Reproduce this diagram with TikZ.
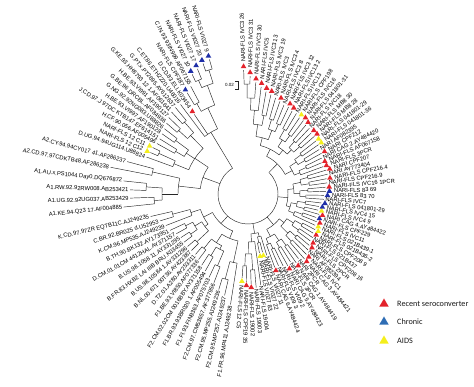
\documentclass[tikz,border=0pt]{standalone}
\usepackage{fontspec}
\setmainfont{Liberation Sans}
\newfontfamily\legfont{Carlito}
\usepackage{xcolor}
\usepackage{tikz}
\usetikzlibrary{shapes.geometric}
\definecolor{srred}{HTML}{E3232B}
\definecolor{srblue}{HTML}{1F2FA8}
\definecolor{legblue}{HTML}{2E6DB4}
\definecolor{sryellow}{HTML}{F4EE1C}

\begin{document}
\begin{tikzpicture}[x=1pt,y=1pt,
  branch/.style={black!85, line width=0.45pt},
  lbl/.style={font=\fontsize{5.8}{6}\selectfont, text=black, inner sep=0.4pt},
  tri/.style={regular polygon, regular polygon sides=3, minimum size=6.5pt, inner sep=0pt, draw=none},
  legtxt/.style={font=\legfont\fontsize{8.2}{9}\selectfont, text=black!90, anchor=west, inner sep=0pt}]

\useasboundingbox (-248,-193) rectangle (226,194);

% ROOT RING
\draw[branch] (121:30pt) arc[start angle=121, end angle=405.76, radius=30pt];

% CLADES: start/end/radius/parent radius
\foreach \a/\b/\r/\q in {
  106/109/130/116, 112/115/124/116, 107.5/113.5/116/95, 118/121/104/95, 110.5/119.5/95/72, 115/127/72/30,
  130/133/96/82, 136/139/94/82, 131.5/137.5/82/64, 142/145/90/74, 148/151/84/74, 143.5/149.5/74/64,
  154/157/98/80, 155.5/160/80/64, 134.5/157.75/64/48,
  165/169/98/70, 174/178/102/86, 182/186/94/86, 176/184/86/70, 167/180/70/48, 146.125/173.5/48/30,
  193/197/78/60, 195/201/60/50, 205/209/70/62, 213/217/70/62, 207/215/62/54, 221/225/70/54,
  211/223/54/50, 198/217/50/40, 229/233/70/58, 237/241/72/62, 245/249/78/62, 239/247/62/58,
  231/243/58/48, 253/257/88/70, 255/261/70/48, 237/258/48/40, 207.5/247.5/40/30,
  266/269/72/60, 272/275/76/60, 267.5/273.5/60/48, 270.5/278/48/40, 281/284/50/44, 282.5/287/44/40,
  274.25/284.75/40/30,
  332/329/62/54, 326/323/62/54, 324.5/330.5/54/46, 320/317/64/56, 314/311/64/56, 312.5/318.5/56/46,
  315.5/327.5/46/40, 308/305/64/56, 302/299/62/56, 300.5/306.5/56/48, 296/293/60/54, 290/294.5/54/48,
  292.25/303.5/48/40, 297.875/321.5/40/30,
  377/374/62/54, 371/368/62/54, 369.5/375.5/54/46, 365/362/60/52, 359/356/58/52, 357.5/363.5/52/46,
  360.5/372.5/46/40, 353/350/58/50, 347/344/58/50, 345.5/351.5/50/44, 341/338/58/50, 335/339.5/50/44,
  337.25/348.5/44/40, 342.875/366.5/40/30,
  452/449/110/96, 446/450.5/96/84, 443/448.25/84/70, 440/437/80/70, 438.5/445.625/70/58,
  434/431/78/68, 428/425/76/68, 426.5/432.5/68/58, 429.5/442.0625/58/50, 422/419/74/64,
  416/413/72/64, 414.5/420.5/64/56, 410/407/70/62, 404/401/70/62, 402.5/408.5/62/56,
  405.5/417.5/56/50, 411.5/435.78/50/42, 398/395/66/58, 392/389/66/58, 390.5/396.5/58/50,
  386/383/64/56, 380/384.5/56/50, 382.25/393.5/50/42, 387.875/423.64/42/30}{
  \pgfmathsetmacro\c{(\a+\b)/2}
  \draw[branch] (\a:\r pt) arc[start angle=\a, end angle=\b, radius=\r pt];
  \draw[branch] (\c:\q pt) -- (\c:\r pt);
}

% LEAVES, LEFT: angle/parent/tip/marker/name
\foreach \a/\p/\r/\m/\t in {
  106/130/140/2/NARI-FLS VI027 9, 109/130/138/2/NARI-FLS VI027 20,
  112/124/135/2/NARI-FLS VI027 17, 115/124/132/2/NARI-FLS VI027 10,
  118/104/122/0/C.IN.93.93IN999.AF067155, 121/104/118/2/NARI-FLS CPF387,
  124/72/96/1/D.CD.83.ELI.K03454, 127/72/112/0/C.ET.86.ETH2220.U46016,
  130/96/113/0/G.PT.x.PT2695.AY612637, 133/96/112/0/G.KE.93.HH8793 12 1.AF061641,
  136/94/110/0/H.BE.93.VI991.AF190127, 139/94/108/0/G.BE.96.DRCBL.AF084936,
  142/90/106/0/G.NG.92.92NG083.U88826, 145/90/105/0/H.BE.93.VI997.AF190128,
  148/84/104/0/J.CD.97.J 97DC KTB147.EF614151, 151/84/104/0/H.CF.90.056.AF005496,
  154/98/106/3/NARI-FLS 12 C11, 157/98/106/3/NARI-FLS 12 C12,
  160/80/108/0/D.UG.94.94UG114.U88824,
  165/98/125/0/A2.CY.94.94CY017 41.AF286237, 169/98/140/0/A2.CD.97.97CDKTB48.AF286238,
  174/102/125/0/A1.AU.x.PS1044 Day0.DQ676872, 178/102/118/0/A1.RW.92.92RW008.AB253421,
  182/94/118/0/A1.UG.92.92UG037.AB253429, 186/94/125/0/A1.KE.94.Q23 17.AF004885,
  193/78/100/0/K.CD.97.97ZR EQTB11C.AJ249235, 197/78/92/0/C.BR.92.BR025 d.U52953,
  201/60/88/0/K.CM.96.MP535.AJ249239, 205/70/86/0/B.TH.90.BK132.AY173951,
  209/70/82/0/D.CM.01.01CM 4412HAL.AY371157, 213/70/80/0/B.US.98.1058 11.AY331295,
  217/70/80/0/B.FR.83.HXB2 LAI IIIB BRU.K03455, 221/70/80/0/B.US.98.10584 1.AY331296,
  225/70/80/0/B.NL.00.671 00T36.AY423387, 229/70/80/0/D.TZ.01.A280.AY253311,
  233/70/82/0/F1.BE.93.VI850.AF077336, 237/72/85/0/F2.CM.02.02CM 0016BBY.AY371158,
  241/72/88/0/F1.BR.93.93BR020 1.AF005494, 245/78/92/0/F1.FI.93.FIN9363.AF075703,
  249/78/95/0/F2.CM.97.CM53657.AF377956, 253/88/100/0/F2.CM.95.MP255.AJ249236,
  257/88/104/0/F2.CM.95.MP257.AJ249237, 261/70/112/0/F1.FR.96.MP411.AJ249238}{
  \draw[branch] (\a:\p pt) -- (\a:\r pt);
  \pgfmathsetmacro\mr{\r+3.5}
  \pgfmathsetmacro\rot{\a-180}
  \ifnum\m>0\relax \pgfmathsetmacro\lr{\r+7.5}\else \pgfmathsetmacro\lr{\r+1}\fi
  \ifcase\m\relax\or\def\mc{srred}\or\def\mc{srblue}\or\def\mc{sryellow}\fi
  \ifnum\m>0\relax \node[tri, fill=\mc] (mk\a) at (\a:\mr pt) {};\fi
  \node[lbl, anchor=east, rotate=\rot] (lf\a) at (\a:\lr pt) {\t};
}

% LEAVES, RIGHT
\foreach \a/\p/\r/\m/\t in {
  266/72/84/3/NARI-FLS 12 C5, 269/72/88/1/NARI-FLS CPF19 35, 272/76/90/1/NARI-FLS 19002,
  275/76/94/0/NARI-FLS 19003, 278/48/92/0/NARI-FLS 19004, 281/50/60/3/NARI-FLS VI027 83,
  284/50/60/3/NARI-FLS VI027 22, 287/44/64/0/NARI-FLS VI027 11,
  290/54/78/1/NARI CAG 6.AY484424, 293/60/78/0/NARI-FLS VI09 3, 296/60/80/0/NARI-FLS VI09 2,
  299/62/82/1/NARI CAG 5.AY484423, 302/62/80/0/NARI-FLS 3PCR, 305/64/84/1/NARI CAG 1.AY484419,
  308/64/82/0/NARI 2PCR, 311/64/86/1/NARI CAG 3.AY484421, 314/64/84/1/NARI-FLS IVC1,
  317/64/82/0/NARI AF082394, 320/64/80/1/NARI-FLS 2PCR, 323/62/78/1/NARI-FLS CPF208 16,
  326/62/78/0/NARI-FLS 021B437, 329/62/76/1/NARI-FLS CPF208 9, 332/62/76/3/NARI-FLS 021B436-2,
  335/50/74/3/NARI-FLS 021B439-1, 338/58/74/1/NARI-FLS IVC11, 341/58/72/2/NARI-FLS CPF229,
  344/58/74/1/NARI CAG 4.AY484422, 347/58/72/3/NARI-FLS IVC4 9, 350/58/72/2/NARI-FLS IVC4 15,
  353/58/74/2/NARI-FLS 041801-29, 356/58/76/0/NARI-FLS IVC7, 359/58/76/2/NARI-FLS 83 70,
  362/60/78/2/NARI-FLS 83 69, 365/60/78/1/NARI-FLS IVC16 1PCR, 368/62/80/0/NARI-FLS CPF216.9,
  371/62/80/1/NARI-FLS CPF216.4, 374/62/82/0/NARI AY773404, 377/62/82/1/NARI CPF207,
  380/56/80/1/NARI-FLS 3PCR, 383/64/80/1/NARI-FLS AF067158, 386/64/82/0/NARI CAG 2.AY484420,
  389/66/84/1/NARI CPF212, 392/66/84/0/NARI AF082395, 395/66/86/3/NARI-FLS 041801-36,
  398/66/86/3/NARI-FLS 041801-29, 401/70/88/1/NARI-FLS MB8 28, 404/70/88/1/NARI-FLS MB8 30,
  407/70/90/0/NARI-FLS IVC18, 410/70/90/1/NARI-FLS 041801-31, 413/72/92/1/NARI-FLS IVC16,
  416/72/92/3/NARI-FLS CPF198, 419/74/94/0/NARI-FLS IVC13, 422/74/94/1/NARI-FLS IVC13 2,
  425/76/96/1/NARI-FLS IVC3 12, 428/76/96/0/NARI-FLS IVC3 8, 431/78/98/1/NARI-FLS IVC3 4,
  434/78/100/0/NARI-FLS IVC3, 437/80/102/1/NARI-FLS IVC3 19, 440/80/104/1/NARI-FLS IVC3 13,
  443/84/108/1/NARI-FLS IVC5, 446/96/112/1/NARI-FLS IVC3 30, 449/110/118/1/NARI-FLS IVC3 31,
  452/110/124/1/NARI-FLS IVC3 26}{
  \draw[branch] (\a:\p pt) -- (\a:\r pt);
  \pgfmathsetmacro\mr{\r+3.5}
  \ifnum\m>0\relax \pgfmathsetmacro\lr{\r+7.5}\else \pgfmathsetmacro\lr{\r+1}\fi
  \ifcase\m\relax\or\def\mc{srred}\or\def\mc{srblue}\or\def\mc{sryellow}\fi
  \ifnum\m>0\relax \node[tri, fill=\mc] (mk\a) at (\a:\mr pt) {};\fi
  \node[lbl, anchor=west, rotate=\a] (lf\a) at (\a:\lr pt) {\t};
}

% scale bar
\draw[branch] (-13,113) -- (-10,113) -- (-10,105) -- (-13,105);
\node[font=\fontsize{4.5}{5}\selectfont, anchor=east, inner sep=0.5pt] (scl) at (-13.5,109) {0.02};

% LEGEND
\node[tri, fill=srred, minimum size=11pt] (kred) at (136,-110) {};
\node[tri, fill=legblue, minimum size=11pt] (kblue) at (136,-128) {};
\node[tri, fill=sryellow, minimum size=11pt] (kyel) at (136,-147) {};
\node[legtxt] (tred) at (149,-110) {Recent seroconverter};
\node[legtxt] (tblue) at (149,-128) {Chronic};
\node[legtxt] (tyel) at (149,-147) {AIDS};

\end{tikzpicture}
\end{document}
